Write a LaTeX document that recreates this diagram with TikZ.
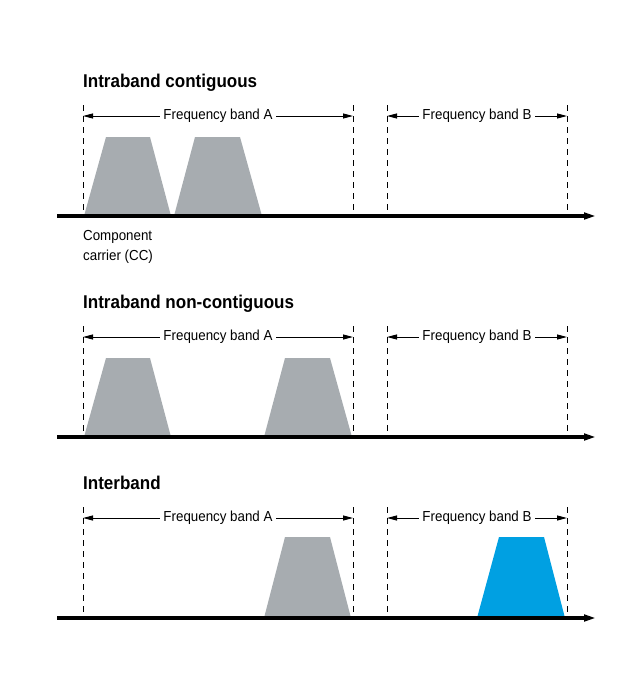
\documentclass[tikz,border=0pt]{standalone}
\usepackage{fontspec}
\setmainfont{Liberation Sans}[FakeStretch=0.92]
\usetikzlibrary{arrows.meta}
\definecolor{ccgray}{RGB}{167,172,176}
\definecolor{ccblue}{RGB}{0,160,226}

\begin{document}
\begin{tikzpicture}[x=1pt, y=-1pt,
  title/.style={anchor=base west, inner sep=0pt, font=\bfseries\fontsize{18.5}{20}\selectfont},
  bandlabel/.style={fill=white, inner sep=3pt, midway, font=\fontsize{14.5}{16}\selectfont},
  edge/.style={dash pattern=on 6pt off 5pt, line width=0.9pt},
  span/.style={{Triangle[length=10pt,width=5pt]}-{Triangle[length=10pt,width=5pt]}, line width=1pt},
  axis/.style={line width=4.5pt, -{Triangle[length=12pt,width=6.5pt]}},
  cc/.style={fill=ccgray},
  ccb/.style={fill=ccblue}]
\useasboundingbox (0,0) rectangle (640,683);

% intraband contiguous
\begin{scope}[shift={(0,216)}]
\node[title] (t1) at (83,-129) {Intraband contiguous};
\coordinate (a1l) at (83,-111); \coordinate (a1lb) at (83,0);
\coordinate (a1r) at (353,-111); \coordinate (a1rb) at (353,0);
\coordinate (b1l) at (387,-111); \coordinate (b1lb) at (387,0);
\coordinate (b1r) at (567,-111); \coordinate (b1rb) at (567,0);
\draw[edge] (a1l) -- (a1lb); \draw[edge] (a1r) -- (a1rb);
\draw[edge] (b1l) -- (b1lb); \draw[edge] (b1r) -- (b1rb);
\fill[cc] (84,0) -- (106,-79) -- (150,-79) -- (171,0) -- cycle;
\fill[cc] (174,0) -- (195,-79) -- (240,-79) -- (262,0) -- cycle;
\coordinate (x1s) at (57,0); \coordinate (x1e) at (596,0);
\draw[axis] (x1s) -- (x1e);
\draw[span] (83,-100) -- node[bandlabel] (fa1) {Frequency band A} (353,-100);
\draw[span] (387,-100) -- node[bandlabel] (fb1) {Frequency band B} (567,-100);
\node[anchor=base west, inner sep=0pt, align=left, font=\fontsize{14.5}{20}\selectfont] (cc1) at (83,44) {Component\\carrier (CC)};
\end{scope}

% intraband non-contiguous
\begin{scope}[shift={(0,437)}]
\node[title] (t2) at (83,-129) {Intraband non-contiguous};
\coordinate (a2l) at (83,-111); \coordinate (a2lb) at (83,0);
\coordinate (a2r) at (353,-111); \coordinate (a2rb) at (353,0);
\coordinate (b2l) at (387,-111); \coordinate (b2lb) at (387,0);
\coordinate (b2r) at (567,-111); \coordinate (b2rb) at (567,0);
\draw[edge] (a2l) -- (a2lb); \draw[edge] (a2r) -- (a2rb);
\draw[edge] (b2l) -- (b2lb); \draw[edge] (b2r) -- (b2rb);
\fill[cc] (84,0) -- (106,-79) -- (150,-79) -- (171,0) -- cycle;
\fill[cc] (264,0) -- (285,-79) -- (330,-79) -- (352,0) -- cycle;
\coordinate (x2s) at (57,0); \coordinate (x2e) at (596,0);
\draw[axis] (x2s) -- (x2e);
\draw[span] (83,-100) -- node[bandlabel] (fa2) {Frequency band A} (353,-100);
\draw[span] (387,-100) -- node[bandlabel] (fb2) {Frequency band B} (567,-100);
\end{scope}

% interband
\begin{scope}[shift={(0,618)}]
\node[title] (t3) at (83,-129) {Interband};
\coordinate (a3l) at (83,-111); \coordinate (a3lb) at (83,0);
\coordinate (a3r) at (353,-111); \coordinate (a3rb) at (353,0);
\coordinate (b3l) at (387,-111); \coordinate (b3lb) at (387,0);
\coordinate (b3r) at (567,-111); \coordinate (b3rb) at (567,0);
\draw[edge] (a3l) -- (a3lb); \draw[edge] (a3r) -- (a3rb);
\draw[edge] (b3l) -- (b3lb); \draw[edge] (b3r) -- (b3rb);
\fill[cc] (264,0) -- (285,-81) -- (330,-81) -- (351,0) -- cycle;
\fill[ccb] (477,0) -- (499,-81) -- (544,-81) -- (565,0) -- cycle;
\coordinate (x3s) at (57,0); \coordinate (x3e) at (596,0);
\draw[axis] (x3s) -- (x3e);
\draw[span] (83,-100) -- node[bandlabel] (fa3) {Frequency band A} (353,-100);
\draw[span] (387,-100) -- node[bandlabel] (fb3) {Frequency band B} (567,-100);
\end{scope}
\end{tikzpicture}
\end{document}
